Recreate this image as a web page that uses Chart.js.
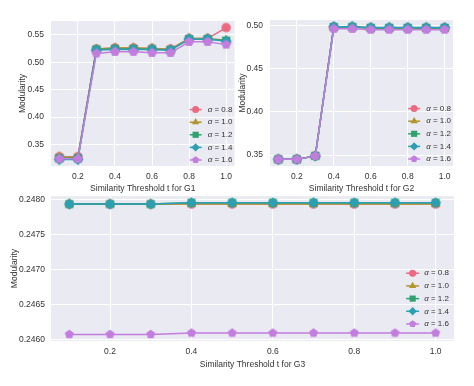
<!DOCTYPE html>
<html>
<head>
<meta charset="utf-8">
<script src="https://cdn.jsdelivr.net/npm/chart.js@4.4.0/dist/chart.umd.min.js"></script>
<style>
  body { margin: 0; background: #fff; width: 474px; height: 386px; position: relative; overflow: hidden; }
  canvas { position: absolute; }
</style>
</head>
<body>
<canvas id="g1" width="240" height="195" style="left:0;top:0"></canvas>
<canvas id="g2" width="237" height="195" style="left:237px;top:0"></canvas>
<canvas id="g3" width="474" height="190" style="left:0;top:185px"></canvas>
<script>
// thresholds t (x axis) and alpha values
var thresholds = [0.1, 0.2, 0.3, 0.4, 0.5, 0.6, 0.7, 0.8, 0.9, 1.0];
var xTicks = [0.2, 0.4, 0.6, 0.8, 1.0];
var alphas = ['0.8', '1.0', '1.2', '1.4', '1.6'];
var colors = ['#ec6a80', '#b0962c', '#2fa26e', '#2c9fb5', '#c27ddf'];
var markers = ['circle', 'triangle', 'square', 'diamond', 'pentagon'];

// G1 modularity
var g1_a08 = [0.328, 0.328, 0.524, 0.526, 0.526, 0.525, 0.524, 0.543, 0.543, 0.563];
var g1_a10 = [0.327, 0.327, 0.524, 0.526, 0.526, 0.525, 0.523, 0.543, 0.543, 0.540];
var g1_a12 = [0.325, 0.325, 0.523, 0.524, 0.524, 0.523, 0.522, 0.542, 0.542, 0.539];
var g1_a14 = [0.323, 0.323, 0.522, 0.523, 0.523, 0.523, 0.522, 0.542, 0.542, 0.538];
var g1_a16 = [0.324, 0.324, 0.516, 0.519, 0.519, 0.517, 0.517, 0.537, 0.537, 0.532];
var g1Ticks = [0.35, 0.40, 0.45, 0.50, 0.55];

// G2 modularity
var g2_a08 = [0.345, 0.345, 0.349, 0.498, 0.498, 0.497, 0.497, 0.497, 0.497, 0.497];
var g2_a10 = [0.345, 0.345, 0.349, 0.498, 0.498, 0.497, 0.497, 0.497, 0.497, 0.497];
var g2_a12 = [0.345, 0.345, 0.349, 0.498, 0.498, 0.497, 0.497, 0.497, 0.497, 0.497];
var g2_a14 = [0.345, 0.345, 0.349, 0.4985, 0.4985, 0.4975, 0.4975, 0.4975, 0.4975, 0.4975];
var g2_a16 = [0.345, 0.345, 0.349, 0.496, 0.496, 0.495, 0.495, 0.495, 0.495, 0.495];
var g2Ticks = [0.35, 0.40, 0.45, 0.50];

// G3 modularity
var g3_a08 = [0.24793, 0.24793, 0.24793, 0.24793, 0.24793, 0.24793, 0.24793, 0.24793, 0.24793, 0.24793];
var g3_a10 = [0.24793, 0.24793, 0.24793, 0.24793, 0.24793, 0.24793, 0.24793, 0.24793, 0.24793, 0.24793];
var g3_a12 = [0.24793, 0.24793, 0.24793, 0.24795, 0.24795, 0.24795, 0.24795, 0.24795, 0.24795, 0.24795];
var g3_a14 = [0.24793, 0.24793, 0.24793, 0.24795, 0.24795, 0.24795, 0.24795, 0.24795, 0.24795, 0.24795];
var g3_a16 = [0.24607, 0.24607, 0.24607, 0.24609, 0.24609, 0.24609, 0.24609, 0.24609, 0.24609, 0.24609];
var g3Ticks = [0.2460, 0.2465, 0.2470, 0.2475, 0.2480];

var FONT = 'Liberation Sans, Arial, sans-serif';
var TEXT = '#333333';

// draws one marker shape into a ctx, centered on cx, cy
function shapePath(ctx, shape, cx, cy, r) {
  ctx.beginPath();
  if (shape == 'circle') {
    ctx.arc(cx, cy, r, 0, Math.PI * 2);
  } else if (shape == 'square') {
    var h = r * 0.88;
    ctx.rect(cx - h, cy - h, 2 * h, 2 * h);
  } else {
    var n = shape == 'triangle' ? 3 : shape == 'diamond' ? 4 : 5;
    var rr = shape == 'pentagon' ? r * 1.05 : r * 1.2;
    for (var k = 0; k < n; k++) {
      var a = -Math.PI / 2 + k * 2 * Math.PI / n;
      var px = cx + rr * Math.cos(a), py = cy + rr * Math.sin(a);
      if (k == 0) ctx.moveTo(px, py); else ctx.lineTo(px, py);
    }
    ctx.closePath();
  }
}

function markerCanvas(shape, color, size) {
  var c = document.createElement('canvas');
  var s = Math.ceil(size * 1.4) + 2;
  c.width = s; c.height = s;
  var ctx = c.getContext('2d');
  ctx.fillStyle = color;
  shapePath(ctx, shape, s / 2, s / 2, size / 2);
  ctx.fill();
  return c;
}

function yRange(series) {
  var all = [].concat.apply([], series);
  var lo = Math.min.apply(null, all), hi = Math.max.apply(null, all);
  var m = (hi - lo) * 0.05;
  return [lo - m, hi + m];
}

// plot background + legend inside the axes
var axesPlugin = {
  id: 'axesBox',
  beforeDraw: function(chart) {
    var a = chart.chartArea, ctx = chart.ctx;
    ctx.save();
    ctx.fillStyle = '#eaeaf2';
    ctx.fillRect(a.left, a.top, a.right - a.left, a.bottom - a.top);
    ctx.restore();
  },
  afterDraw: function(chart, args, opts) {
    var a = chart.chartArea, ctx = chart.ctx;
    var n = chart.data.datasets.length;
    ctx.save();
    ctx.font = opts.fontSize + 'px ' + FONT;
    var textW = 0;
    chart.data.datasets.forEach(function(ds) {
      textW = Math.max(textW, ctx.measureText('\u03b1 = ' + ds.alpha).width);
    });
    var textX = a.right - opts.right - textW;
    for (var i = 0; i < n; i++) {
      var ds = chart.data.datasets[i];
      var y = a.bottom - opts.bottom - (n - 1 - i) * opts.gap;
      var x0 = textX - opts.textGap - opts.lineLen;
      ctx.strokeStyle = ds.borderColor;
      ctx.lineWidth = 1.5;
      ctx.beginPath();
      ctx.moveTo(x0, y);
      ctx.lineTo(x0 + opts.lineLen, y);
      ctx.stroke();
      ctx.fillStyle = ds.borderColor;
      shapePath(ctx, ds.shape, x0 + opts.lineLen / 2, y, opts.markerSize / 2);
      ctx.fill();
      ctx.fillStyle = TEXT;
      ctx.textBaseline = 'middle';
      ctx.textAlign = 'left';
      ctx.font = 'italic ' + opts.fontSize + 'px ' + FONT;
      ctx.fillText('\u03b1', textX, y);
      var aw = ctx.measureText('\u03b1').width;
      ctx.font = opts.fontSize + 'px ' + FONT;
      ctx.fillText(' = ' + ds.alpha, textX + aw, y);
    }
    ctx.restore();
  }
};

function makeChart(id, series, yTicks, decimals, xTitle, cfg) {
  var range = yRange(series);
  var datasets = series.map(function(vals, i) {
    return {
      label: '\u03b1 = ' + alphas[i],
      alpha: alphas[i],
      shape: markers[i],
      data: thresholds.map(function(t, j) { return { x: t, y: vals[j] }; }),
      borderColor: colors[i],
      backgroundColor: colors[i],
      borderWidth: 1.5,
      pointStyle: markerCanvas(markers[i], colors[i], cfg.markerSize),
      order: series.length - i
    };
  });
  return new Chart(document.getElementById(id), {
    type: 'line',
    data: { datasets: datasets },
    plugins: [axesPlugin],
    options: {
      responsive: false,
      animation: false,
      devicePixelRatio: 1,
      events: [],
      layout: { padding: cfg.padding },
      plugins: {
        legend: { display: false },
        tooltip: { enabled: false },
        axesBox: cfg.legend
      },
      scales: {
        x: {
          type: 'linear',
          bounds: 'data',
          min: 0.055,
          max: 1.045,
          afterBuildTicks: function(s) { s.ticks = xTicks.map(function(v) { return { value: v }; }); },
          afterFit: function(s) { s.height = cfg.xHeight; },
          ticks: {
            callback: function(v) { return v.toFixed(1); },
            font: { family: FONT, size: cfg.fontSize },
            color: TEXT,
            padding: cfg.xTickPad,
            maxRotation: 0
          },
          grid: { color: '#ffffff', lineWidth: 1, drawTicks: false },
          border: { display: false },
          title: {
            display: true,
            text: xTitle,
            font: { family: FONT, size: cfg.fontSize },
            color: TEXT,
            padding: { top: 0, bottom: cfg.xTitlePad }
          }
        },
        y: {
          type: 'linear',
          bounds: 'data',
          min: range[0],
          max: range[1],
          afterBuildTicks: function(s) { s.ticks = yTicks.map(function(v) { return { value: v }; }); },
          afterFit: function(s) { s.width = cfg.yWidth; },
          ticks: {
            callback: function(v) { return v.toFixed(decimals); },
            font: { family: FONT, size: cfg.fontSize },
            color: TEXT,
            padding: cfg.yTickPad
          },
          grid: { color: '#ffffff', lineWidth: 1, drawTicks: false },
          border: { display: false },
          title: {
            display: true,
            text: 'Modularity',
            font: { family: FONT, size: cfg.fontSize },
            color: TEXT,
            padding: { top: cfg.yTitlePad, bottom: 0 }
          }
        }
      }
    }
  });
}

makeChart('g1', [g1_a08, g1_a10, g1_a12, g1_a14, g1_a16], g1Ticks, 2, 'Similarity Threshold t for G1', {
  padding: { left: 0, right: 5, top: 21, bottom: 0 },
  xHeight: 29, yWidth: 51, fontSize: 8.5, markerSize: 9.5,
  xTickPad: 6, yTickPad: 7, yTitlePad: 18, xTitlePad: 1,
  legend: { right: 2, bottom: 6, gap: 12.6, lineLen: 12, textGap: 6, markerSize: 7, fontSize: 8 }
});

makeChart('g2', [g2_a08, g2_a10, g2_a12, g2_a14, g2_a16], g2Ticks, 2, 'Similarity Threshold t for G2', {
  padding: { left: 0, right: 21, top: 20, bottom: 0 },
  xHeight: 29, yWidth: 33, fontSize: 8.5, markerSize: 9.5,
  xTickPad: 6, yTickPad: 7, yTitlePad: 1, xTitlePad: 1,
  legend: { right: 2, bottom: 7, gap: 12.6, lineLen: 12, textGap: 6, markerSize: 7, fontSize: 8 }
});

makeChart('g3', [g3_a08, g3_a10, g3_a12, g3_a14, g3_a16], g3Ticks, 4, 'Similarity Threshold t for G3', {
  padding: { left: 0, right: 20, top: 10, bottom: 0 },
  xHeight: 34, yWidth: 51, fontSize: 8.5, markerSize: 9,
  xTickPad: 6, yTickPad: 6, yTitlePad: 10, xTitlePad: 5,
  legend: { right: 5, bottom: 17, gap: 12.7, lineLen: 13, textGap: 5, markerSize: 7, fontSize: 8 }
});
</script>
</body>
</html>
